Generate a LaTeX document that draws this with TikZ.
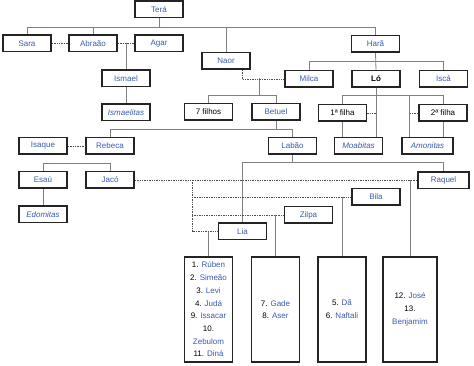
\documentclass[tikz,border=0pt]{standalone}
\usepackage{fontspec}
\setmainfont{Liberation Sans}
\usetikzlibrary{calc}

\definecolor{FTLink}{HTML}{3A5BAA}
\definecolor{FTLine}{gray}{0.50}
\definecolor{FTBox}{gray}{0.14}
\definecolor{FTDot}{gray}{0.30}
\newcommand{\FTlink}[1]{\textcolor{FTLink}{#1}}

\begin{document}
\begin{tikzpicture}[x=1pt, y=-1pt,
    pbox/.style={draw=FTBox, line width=1.5pt, fill=white, minimum width=48pt,
      minimum height=16.5pt, inner sep=1pt, text=FTLink,
      font=\fontsize{8}{9}\selectfont},
    plain/.style={pbox, text=black},
    tribe/.style={pbox, font=\fontsize{8}{9}\selectfont\itshape},
    bigbox/.style={draw=FTBox, line width=1.5pt, fill=white, minimum width=48pt,
      minimum height=105pt, inner sep=0pt, align=center, text=black,
      font=\fontsize{8}{12.7}\selectfont},
    rel/.style={draw=FTLine, line width=0.8pt},
    marr/.style={draw=FTDot, line width=0.8pt, dash pattern=on 1.4pt off 1pt}]

  % ---- frame ----
  \useasboundingbox (0,0) rectangle (474,366);

  % ---- row 1 ----
  \node[pbox] (tera) at (159,9.5) {Terá};

  % ---- row 2 ----
  \node[pbox] (sara)   at (27,43.5)  {Sara};
  \node[pbox] (abraao) at (93,43.5)  {Abraão};
  \node[pbox] (agar)   at (159,43.5) {Agar};
  \node[pbox] (hara)   at (375.5,44) {Harã};
  \node[pbox] (naor)   at (226,61)   {Naor};

  % ---- row 3 ----
  \node[pbox] (ismael) at (126,78.5) {Ismael};
  \node[pbox] (milca)  at (309,79)   {Milca};
  \node[plain, font=\fontsize{8}{9}\selectfont\bfseries] (lo) at (376,79) {Ló};
  \node[pbox] (isca)   at (443.5,79) {Iscá};

  % ---- row 4 ----
  \node[tribe] (ismaelitas) at (126,112.5) {Ismaelitas};
  \node[plain] (setefilhos) at (208.5,112) {7 filhos};
  \node[pbox]  (betuel)     at (276,112)   {Betuel};
  \node[plain] (filha1)     at (342.5,113) {1ª filha};
  \node[plain] (filha2)     at (443,113)   {2ª filha};

  % ---- row 5 ----
  \node[pbox]  (isaque)   at (43,146)    {Isaque};
  \node[pbox]  (rebeca)   at (110,146)   {Rebeca};
  \node[pbox]  (labao)    at (292.5,146) {Labão};
  \node[tribe] (moabitas) at (358.5,146) {Moabitas};
  \node[tribe, minimum width=51pt] (amonitas) at (427.5,146) {Amonitas};

  % ---- row 6 ----
  \node[pbox]  (esau)     at (43,180)    {Esaú};
  \node[pbox]  (jaco)     at (110,180)   {Jacó};
  \node[pbox, minimum width=51pt] (raquel) at (443.5,180.5) {Raquel};
  \node[pbox]  (bila)     at (376,197)   {Bila};
  \node[pbox]  (zilpa)    at (308.5,215) {Zilpa};
  \node[tribe] (edomitas) at (43,214.5)  {Edomitas};
  \node[pbox]  (lia)      at (242.5,231.5) {Lia};

  % ---- sons of Jacó ----
  \node[bigbox] (box1) at (208.5,309.5) {1. \FTlink{Rúben}\\2. \FTlink{Simeão}\\3. \FTlink{Levi}\\4. \FTlink{Judá}\\9. \FTlink{Issacar}\\10.\\\FTlink{Zebulom}\\11. \FTlink{Diná}};
  \node[bigbox] (box2) at (275.5,309.5) {7. \FTlink{Gade}\\8. \FTlink{Aser}};
  \node[bigbox] (box3) at (342,309.5) {5. \FTlink{Dã}\\6. \FTlink{Naftali}};
  \node[bigbox, minimum width=54pt] (box4) at (410,309.5) {12. \FTlink{José}\\13.\\\FTlink{Benjamim}};

  % ---- bars ----
  \coordinate (terabar) at (0,27);
  \coordinate (harabar) at (0,61);
  \coordinate (naorm)   at (259,78);
  \coordinate (lobar)   at (0,95);
  \coordinate (lob2)    at (409,95);
  \coordinate (betbar)  at (0,129);
  \coordinate (labbar)  at (0,162);
  \coordinate (isbar)   at (0,163);
  \coordinate (jm)      at (192,180);

  % ---- descent lines ----
  \draw[rel] (tera.south) -- (tera.south |- terabar);
  \draw[rel] (sara.north) |- (hara.north |- terabar) -- (hara.north);
  \draw[rel] (abraao.north) -- (abraao.north |- terabar);
  \draw[rel] (naor.north) -- (naor.north |- terabar);

  \draw[rel] ($(sara.east)!.5!(abraao.west)$) -- ($(sara.east)!.5!(abraao.west)$ |- isaque.north);
  \draw[rel] ($(abraao.east)!.5!(agar.west)$) -- (ismael.north);
  \draw[rel] (ismael) -- (ismaelitas);

  \draw[rel] (hara.south) -- (lo.north);
  \draw[rel] (milca.north) |- (isca.north |- harabar) -- (isca.north);
  \draw[rel] (lo.south) -- (lo.south |- moabitas.north);
  \draw[rel] (filha1.north) |- (filha2.north |- lobar) -- (filha2.north);
  \draw[rel] (lob2) -- (lob2 |- amonitas.north);
  \draw[rel] (filha1.south) -- (filha1.south |- moabitas.north);
  \draw[rel] (filha2.south) -- (filha2.south |- amonitas.north);

  \draw[rel] (naorm) -- (naorm |- lobar);
  \draw[rel] (setefilhos.north) |- (betuel.north |- lobar) -- (betuel.north);

  \draw[rel] (betuel.south) -- (betuel.south |- betbar);
  \draw[rel] (rebeca.north) |- (labao.north |- betbar) -- (labao.north);

  \draw[rel] ($(isaque.east)!.5!(rebeca.west)$) -- ($(isaque.east)!.5!(rebeca.west)$ |- isbar);
  \draw[rel] (esau.north) |- (jaco.north |- isbar) -- (jaco.north);
  \draw[rel] (esau) -- (edomitas);

  \draw[rel] (labao.south) -- (labao.south |- labbar);
  \draw[rel] (lia.north) |- (raquel.north |- labbar) -- (raquel.north);

  \draw[rel] (box1.north |- lia.west) -- (box1.north);
  \draw[rel] (box2.north |- zilpa.west) -- (box2.north);
  \draw[rel] (box3.north |- bila.west) -- (box3.north);
  \draw[rel] (box4.north |- raquel.west) -- (box4.north);

  % ---- marriages ----
  \draw[marr] (sara.east) -- (abraao.west);
  \draw[marr] (abraao.east) -- (agar.west);
  \draw[marr] ([xshift=16pt]naor.south) |- (milca.west);
  \draw[marr] (filha1.east) -- (filha1.east -| lo.south);
  \draw[marr] (filha2.west) -- (filha2.west -| lob2);
  \draw[marr] (isaque.east) -- (rebeca.west);
  \draw[marr] (jaco.east) -- (jaco.east -| raquel.west);
  \draw[marr] (jm) |- (lia.west);
  \draw[marr] (jm |- bila.west) -- (bila.west);
  \draw[marr] (jm |- zilpa.west) -- (zilpa.west);

\end{tikzpicture}
\end{document}
